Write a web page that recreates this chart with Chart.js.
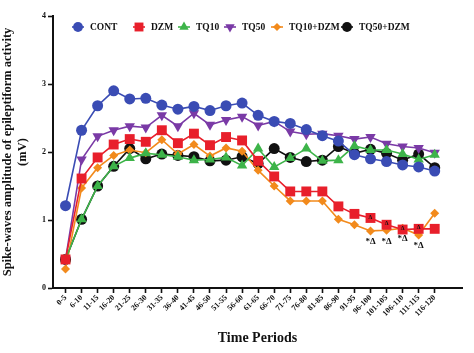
<!DOCTYPE html>
<html>
<head>
<meta charset="utf-8">
<script src="https://cdn.jsdelivr.net/npm/chart.js@4/dist/chart.umd.min.js"></script>
<style>
  body { margin: 0; background: #fff; }
  #wrap { width: 474px; height: 353px; }
</style>
</head>
<body>
<div id="wrap"><canvas id="chart" width="474" height="353"></canvas></div>
<script>
const periods = ["0-5","6-10","11-15","16-20","21-25","26-30","31-35","36-40","41-45","46-50","51-55","56-60",
  "61-65","66-70","71-75","76-80","81-85","86-90","91-95","96-100","101-105","106-110","111-115","116-120"];

const cont = [1.21,2.32,2.68,2.90,2.78,2.79,2.69,2.63,2.67,2.61,2.68,2.72,2.54,2.45,2.42,2.33,2.24,2.16,1.96,1.90,1.86,1.81,1.78,1.72];
const dzm = [0.42,1.61,1.92,2.11,2.19,2.15,2.32,2.13,2.27,2.10,2.22,2.17,1.87,1.64,1.42,1.42,1.42,1.20,1.09,1.03,0.93,0.86,0.87,0.87];
const tq10 = [0.42,1.01,1.50,1.79,1.91,1.98,1.96,1.93,1.88,1.89,1.92,1.80,2.05,1.78,1.91,2.05,1.87,1.88,2.09,2.03,2.03,1.97,1.89,1.96];
const tq50 = [0.42,1.89,2.23,2.32,2.38,2.36,2.54,2.38,2.57,2.40,2.47,2.52,2.39,2.45,2.30,2.26,2.27,2.24,2.19,2.22,2.12,2.08,2.06,1.99];
const tq10dzm = [0.28,1.47,1.77,1.95,2.03,1.99,2.18,1.97,2.11,1.94,2.06,2.01,1.73,1.50,1.28,1.28,1.28,1.01,0.93,0.84,0.85,0.88,0.78,1.10];
const tq50dzm = [0.42,1.01,1.50,1.79,2.05,1.90,1.97,1.95,1.93,1.87,1.88,1.93,1.83,2.05,1.92,1.86,1.88,2.08,1.98,2.04,1.98,1.88,1.97,1.77];

const yTicks = [0, 1, 2, 3, 4];
// points marked with significance signs
const markIdx = [19, 20, 21, 22];

const serif = "'Liberation Serif', 'Times New Roman', serif";

function series(label, data, color, style, r, rot) {
  return {
    label: label,
    data: data.map((v, i) => ({ x: i, y: v })),
    borderColor: color,
    backgroundColor: color,
    borderWidth: 1.6,
    pointStyle: style,
    pointRadius: r,
    pointRotation: rot || 0,
    pointBorderWidth: 0,
    tension: 0,
  };
}

const datasets = [
  series("CONT", cont, "#3a4cb4", "circle", 5.5),
  series("DZM", dzm, "#e81f2b", "rect", 7),
  series("TQ10", tq10, "#3db449", "triangle", 6),
  series("TQ50", tq50, "#7a3aa6", "triangle", 6, 180),
  series("TQ10+DZM", tq10dzm, "#f28a1c", "rectRot", 4.5),
  series("TQ50+DZM", tq50dzm, "#111111", "circle", 5.5),
];

const legendPos = [72, 133, 178, 224, 271, 341];

const extras = {
  id: "extras",
  afterDatasetsDraw(chart) {
    const ctx = chart.ctx;
    const xs = chart.scales.x, ys = chart.scales.y;
    ctx.save();
    // legend
    datasets.forEach((d, i) => {
      const x0 = legendPos[i], y0 = 27;
      ctx.strokeStyle = d.borderColor;
      ctx.lineWidth = 1.6;
      ctx.beginPath();
      ctx.moveTo(x0, y0);
      ctx.lineTo(x0 + 12, y0);
      ctx.stroke();
      ctx.fillStyle = d.backgroundColor;
      Chart.helpers.drawPoint(ctx, { pointStyle: d.pointStyle, radius: d.pointRadius * 0.9, rotation: d.pointRotation, borderWidth: 0 }, x0 + 6, y0);
      ctx.fillStyle = "#111";
      ctx.font = "bold 9.5px " + serif;
      ctx.textBaseline = "middle";
      ctx.textAlign = "left";
      ctx.fillText(d.label, x0 + 18, y0 + 0.5);
    });
    // significance marks
    markIdx.forEach((i) => {
      const x = xs.getPixelForValue(i);
      ctx.fillStyle = "#111";
      ctx.textAlign = "center";
      ctx.font = "bold 9px " + serif;
      ctx.fillText("*\u0394", x, ys.getPixelForValue(tq10dzm[i]) + 11);
      ctx.font = "bold 6px " + serif;
      ctx.fillText("\u0394", x, ys.getPixelForValue(dzm[i]) - 1);
    });
    ctx.restore();
  },
};

const chart = new Chart(document.getElementById("chart"), {
  type: "line",
  data: { datasets: datasets },
  plugins: [extras],
  options: {
    responsive: false,
    animation: false,
    layout: { padding: { top: 16, right: 12, left: 0, bottom: 0 } },
    plugins: { legend: { display: false }, tooltip: { enabled: false } },
    scales: {
      x: {
        type: "linear",
        min: -0.78,
        max: 24.7,
        afterBuildTicks: (axis) => { axis.ticks = periods.map((p, i) => ({ value: i })); },
        afterFit: (s) => { s.height = 65; },
        grid: { drawOnChartArea: false, drawTicks: true, tickLength: 5, color: "#111", tickWidth: 1.6 },
        border: { color: "#111", width: 2 },
        ticks: {
          autoSkip: false,
          minRotation: 45,
          maxRotation: 45,
          padding: 0,
          color: "#111",
          font: { family: serif, size: 8, weight: "bold" },
          callback: (v) => periods[v],
        },
        title: {
          display: true,
          text: "Time Periods",
          color: "#111",
          font: { family: serif, size: 14, weight: "bold" },
          padding: { top: 0, bottom: 6 },
        },
      },
      y: {
        min: 0,
        max: 4,
        afterBuildTicks: (axis) => { axis.ticks = yTicks.map((v) => ({ value: v })); },
        afterFit: (s) => { s.width = 53; },
        grid: { drawOnChartArea: false, drawTicks: true, tickLength: 5, color: "#111", tickWidth: 1.6 },
        border: { color: "#111", width: 2 },
        ticks: {
          padding: 2,
          color: "#111",
          font: { family: serif, size: 8, weight: "bold" },
        },
        title: {
          display: true,
          text: ["Spike-waves amplitude of epileptiform activity", "(mV)"],
          color: "#111",
          font: { family: serif, size: 12.5, weight: "bold", lineHeight: 1.2 },
          padding: { top: 0, bottom: 4 },
        },
      },
    },
  },
});
</script>
</body>
</html>
